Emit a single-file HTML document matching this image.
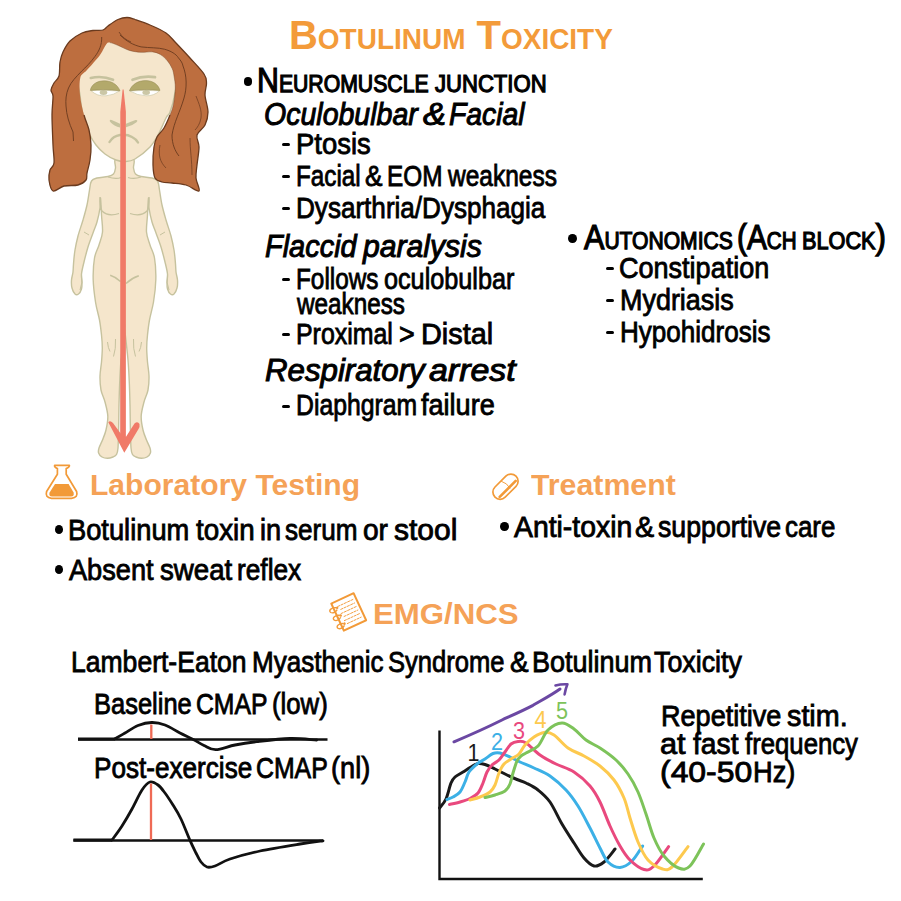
<!DOCTYPE html>
<html><head><meta charset="utf-8"><style>
html,body{margin:0;padding:0;background:#fff;}
body{width:901px;height:901px;position:relative;overflow:hidden;font-family:"Liberation Sans",sans-serif;}
.t{position:absolute;white-space:nowrap;transform-origin:0 0;}
.t.n{-webkit-text-stroke:0.85px #000;}
.t.n.k{-webkit-text-stroke:1.25px #000;}
.t.n.i{-webkit-text-stroke:1.0px #000;}
.b{position:absolute;background:#000;border-radius:50%;}
.d{position:absolute;background:#000;border-radius:1.5px;}
svg{position:absolute;left:0;top:0;}
</style></head><body>
<svg width="901" height="901" viewBox="0 0 901 901"><path d="M116,158 C113.1,159.7 115.9,165.3 115.5,168 C115.1,170.7 114.8,172.6 113.5,174 C112.2,175.4 110.8,175.8 108,176.5 C105.2,177.2 99.8,177.2 97,178 C94.2,178.8 92.8,179.0 91.5,181 C90.2,183.0 90.2,186.0 89.5,190 C88.8,194.0 88.1,200.0 87,205 C85.9,210.0 84.5,214.8 83,220 C81.5,225.2 79.3,231.0 78,236 C76.7,241.0 75.8,245.3 75,250 C74.2,254.7 73.8,260.3 73.5,264 C73.2,267.7 73.3,269.3 73,272 C72.7,274.7 71.7,277.3 71.5,280 C71.3,282.7 71.4,285.7 72,288 C72.6,290.3 73.9,293.0 75,294 C76.1,295.0 77.4,294.8 78.5,294 C79.6,293.2 80.9,291.0 81.5,289 C82.1,287.0 82.0,284.5 82,282 C82.0,279.5 81.2,277.3 81.5,274 C81.8,270.7 82.9,266.5 84,262 C85.1,257.5 86.5,251.8 88,247 C89.5,242.2 91.5,237.2 93,233 C94.5,228.8 95.8,226.2 97,222 C98.2,217.8 99.4,212.0 100,208 C100.6,204.0 100.2,196.8 100.5,198 C100.8,199.2 101.2,209.3 101.5,215 C101.8,220.7 102.9,227.0 102.5,232 C102.1,237.0 100.3,240.7 99,245 C97.7,249.3 95.5,252.2 94.5,258 C93.5,263.8 93.0,272.7 93.2,280 C93.4,287.3 94.5,295.3 95.5,302 C96.5,308.7 98.5,314.5 99.5,320 C100.5,325.5 101.0,330.3 101.5,335 C102.0,339.7 102.3,343.5 102.3,348 C102.3,352.5 101.9,357.3 101.5,362 C101.1,366.7 100.1,371.3 100,376 C99.9,380.7 100.2,385.7 101,390 C101.8,394.3 103.9,397.7 105,402 C106.1,406.3 107.6,411.3 107.8,416 C108.0,420.7 106.9,426.0 106,430 C105.1,434.0 103.7,437.0 102.5,440 C101.3,443.0 99.7,445.8 99,448 C98.3,450.2 98.1,451.5 98.6,453 C99.1,454.5 100.5,456.1 102,457 C103.5,457.9 105.8,458.3 107.6,458.3 C109.4,458.3 111.5,457.6 113,457 C114.5,456.4 115.7,456.0 116.5,454.5 C117.3,453.0 117.7,452.1 118,448 C118.3,443.9 118.4,437.2 118.6,430 C118.8,422.8 118.8,412.5 119,405 C119.2,397.5 119.3,392.5 119.6,385 C119.9,377.5 120.2,369.5 121,360 C121.8,350.5 123.9,333.3 124.5,328 C125.1,322.7 123.9,322.7 124.5,328 C125.1,333.3 127.2,350.5 128,360 C128.8,369.5 129.1,377.5 129.4,385 C129.7,392.5 129.8,397.5 130,405 C130.2,412.5 130.2,422.8 130.4,430 C130.6,437.2 130.7,443.9 131,448 C131.3,452.1 131.7,453.0 132.5,454.5 C133.3,456.0 134.5,456.4 136,457 C137.5,457.6 139.6,458.3 141.4,458.3 C143.2,458.3 145.5,457.9 147,457 C148.5,456.1 149.9,454.5 150.4,453 C150.9,451.5 150.7,450.2 150,448 C149.3,445.8 147.7,443.0 146.5,440 C145.3,437.0 143.9,434.0 143,430 C142.1,426.0 141.0,420.7 141.2,416 C141.4,411.3 142.9,406.3 144,402 C145.1,397.7 147.2,394.3 148,390 C148.8,385.7 149.1,380.7 149,376 C148.9,371.3 147.9,366.7 147.5,362 C147.1,357.3 146.7,352.5 146.7,348 C146.7,343.5 147.0,339.7 147.5,335 C148.0,330.3 148.5,325.5 149.5,320 C150.5,314.5 152.4,308.7 153.5,302 C154.6,295.3 155.6,287.3 155.8,280 C156.0,272.7 155.5,263.8 154.5,258 C153.5,252.2 151.3,249.3 150,245 C148.7,240.7 146.9,237.0 146.5,232 C146.1,227.0 147.2,220.7 147.5,215 C147.8,209.3 148.2,199.2 148.5,198 C148.8,196.8 148.4,204.0 149,208 C149.6,212.0 150.8,217.8 152,222 C153.2,226.2 154.5,228.8 156,233 C157.5,237.2 159.5,242.2 161,247 C162.5,251.8 163.9,257.5 165,262 C166.1,266.5 167.2,270.7 167.5,274 C167.8,277.3 167.0,279.5 167,282 C167.0,284.5 166.9,287.0 167.5,289 C168.1,291.0 169.4,293.2 170.5,294 C171.6,294.8 172.9,295.0 174,294 C175.1,293.0 176.4,290.3 177,288 C177.6,285.7 177.7,282.7 177.5,280 C177.3,277.3 176.3,274.7 176,272 C175.7,269.3 175.8,267.7 175.5,264 C175.2,260.3 174.8,254.7 174,250 C173.2,245.3 172.3,241.0 171,236 C169.7,231.0 167.5,225.2 166,220 C164.5,214.8 163.1,210.0 162,205 C160.9,200.0 160.2,194.0 159.5,190 C158.8,186.0 158.8,183.0 157.5,181 C156.2,179.0 154.8,178.8 152,178 C149.2,177.2 143.8,177.2 141,176.5 C138.2,175.8 136.8,175.4 135.5,174 C134.2,172.6 133.9,170.7 133.5,168 C133.1,165.3 135.9,159.7 133,158 C130.1,156.3 118.9,156.3 116,158 Z" fill="#F5E6CC" stroke="#C6C29E" stroke-width="1.4" stroke-linejoin="round"/><path d="M78,70 C81.3,60.8 88.0,45.0 100,40 C112.0,35.0 137.3,35.0 150,40 C162.7,45.0 171.9,60.8 176,70 C180.1,79.2 175.5,88.0 174.5,95 C173.5,102.0 171.4,108.2 170,112 C168.6,115.8 168.0,114.2 166,118 C164.0,121.8 160.7,130.2 158,135 C155.3,139.8 153.8,143.0 150,147 C146.2,151.0 139.2,156.6 135,159 C130.8,161.4 128.2,161.3 125,161.5 C121.8,161.7 119.3,161.2 116,160 C112.7,158.8 108.3,156.5 105,154 C101.7,151.5 98.5,148.2 96,145 C93.5,141.8 92.2,140.0 90,135 C87.8,130.0 84.7,121.7 83,115 C81.3,108.3 80.8,102.5 80,95 C79.2,87.5 74.7,79.2 78,70 Z" fill="#F5E6CC" stroke="#C6C29E" stroke-width="1.4"/><path d="M108,177 Q116,179.5 121,177.5 M128,177.5 Q134,179.5 141,177" fill="none" stroke="#C6C29E" stroke-width="1.2"/><path d="M100,197 Q99.5,206 102,211 Q108,217 119,213.5 M149,197 Q149.5,206 147,211 Q141,217 130,213.5" fill="none" stroke="#C6C29E" stroke-width="1.3"/><path d="M84,232 L89,235 M165,232 L160,235" fill="none" stroke="#C6C29E" stroke-width="1"/><path d="M81.5,274 Q83,283 80,290 M167.5,274 Q166,283 169,290" fill="none" stroke="#C6C29E" stroke-width="1"/><path d="M110.2,275.2 Q116,277 120.5,281.5 M138.8,275.8 Q132,278 126,283.5" fill="none" stroke="#C6C29E" stroke-width="1.6"/><path d="M107.5,342 Q108,348 110,351.5 M115.5,339 Q116,349 113.5,356.5 M141.5,342 Q141,348 139,351.5 M133.5,339 Q133,349 135.5,356.5" fill="none" stroke="#C6C29E" stroke-width="1"/><path d="M53,191 C50.5,190.0 49.5,183.5 49,180 C48.5,176.5 49.2,172.8 50,170 C50.8,167.2 53.5,167.2 54,163 C54.5,158.8 53.3,153.0 53,145 C52.7,137.0 52.0,123.2 52,115 C52.0,106.8 53.2,100.2 53,96 C52.8,91.8 50.8,92.2 51,90 C51.2,87.8 52.7,85.3 54,83 C55.3,80.7 58.0,79.5 59,76 C60.0,72.5 59.3,66.0 60,62 C60.7,58.0 61.3,55.5 63,52 C64.7,48.5 66.8,44.2 70,41 C73.2,37.8 78.2,34.8 82,33 C85.8,31.2 89.5,31.0 93,30.5 C96.5,30.0 100.5,30.8 103,30 C105.5,29.2 105.5,27.8 108,26 C110.5,24.2 114.8,20.9 118,19.5 C121.2,18.1 124.2,17.5 127,17.5 C129.8,17.5 131.2,18.2 135,19.5 C138.8,20.8 144.8,22.8 150,25 C155.2,27.2 161.7,30.0 166,33 C170.3,36.0 172.0,38.8 176,43 C180.0,47.2 185.3,52.8 190,58 C194.7,63.2 201.2,69.8 204,74 C206.8,78.2 206.3,79.5 206.5,83 C206.7,86.5 204.8,90.2 205,95 C205.2,99.8 208.0,107.0 208,112 C208.0,117.0 206.8,121.2 205,125 C203.2,128.8 198.0,131.3 197,135 C196.0,138.7 199.0,142.0 199,147 C199.0,152.0 197.5,159.8 197,165 C196.5,170.2 195.7,173.7 196,178 C196.3,182.3 200.7,189.8 199,191 C197.3,192.2 190.5,186.3 186,185 C181.5,183.7 176.0,183.5 172,183 C168.0,182.5 164.8,182.8 162,182 C159.2,181.2 156.5,180.8 155,178 C153.5,175.2 153.2,170.2 153,165 C152.8,159.8 153.3,151.7 154,147 C154.7,142.3 155.3,140.2 157,137 C158.7,133.8 161.8,131.7 164,128 C166.2,124.3 168.4,119.0 170,115 C171.6,111.0 172.6,108.5 173.5,104 C174.4,99.5 175.2,92.6 175.3,88 C175.4,83.4 174.6,79.6 174.1,76.4 C173.6,73.2 173.3,71.2 172.2,68.6 C171.1,66.0 169.4,63.2 167.5,60.9 C165.6,58.6 163.0,56.1 160.5,54.6 C158.0,53.1 155.9,52.3 152.7,51.9 C149.5,51.5 145.0,52.5 141.1,52.3 C137.2,52.0 133.3,51.6 129.4,50.4 C125.5,49.2 121.0,46.6 117.8,45.3 C114.6,44.0 112.0,42.8 110,42.6 C108.0,42.5 107.6,42.5 106.1,44.4 C104.6,46.3 102.4,51.3 100.8,53.8 C99.2,56.3 97.9,57.7 96.3,59.6 C94.7,61.5 93.1,63.4 91.4,65.3 C89.7,67.2 87.9,69.0 86.1,71.1 C84.2,73.2 81.3,73.8 80.3,77.8 C79.3,81.8 79.4,88.8 80,95 C80.6,101.2 82.5,109.2 84,115 C85.5,120.8 87.8,125.0 89,130 C90.2,135.0 90.8,140.0 91,145 C91.2,150.0 90.7,155.3 90,160 C89.3,164.7 87.7,169.7 87,173 C86.3,176.3 87.5,178.0 86,180 C84.5,182.0 81.7,184.0 78,185 C74.3,186.0 68.2,185.0 64,186 C59.8,187.0 55.5,192.0 53,191 Z" fill="#BD6E3F"/><path d="M84,115 C85.5,120.8 87.8,125.0 89,130 C90.2,135.0 90.8,140.0 91,145 C91.2,150.0 90.7,155.3 90,160 C89.3,164.7 87.7,169.7 87,173 C86.3,176.3 87.5,178.0 86,180 C84.5,182.0 81.7,184.0 78,185 C74.3,186.0 68.2,185.0 64,186 C59.8,187.0 55.5,192.0 53,191 C50.5,190.0 49.5,183.5 49,180 C48.5,176.5 49.2,172.8 50,170 C50.8,167.2 53.5,167.2 54,163 C54.5,158.8 53.3,153.0 53,145 C52.7,137.0 52.0,123.2 52,115 C52.0,106.8 53.2,100.2 53,96 C52.8,91.8 50.8,92.2 51,90 C51.2,87.8 52.7,85.3 54,83 C55.3,80.7 58.0,79.5 59,76 C60.0,72.5 59.3,66.0 60,62 C60.7,58.0 61.3,55.5 63,52 C64.7,48.5 66.8,44.2 70,41 C73.2,37.8 78.2,34.8 82,33 C85.8,31.2 89.5,31.0 93,30.5 C96.5,30.0 100.5,30.8 103,30 C105.5,29.2 105.5,27.8 108,26 C110.5,24.2 114.8,20.9 118,19.5 C121.2,18.1 124.2,17.5 127,17.5 C129.8,17.5 131.2,18.2 135,19.5 C138.8,20.8 144.8,22.8 150,25 C155.2,27.2 161.7,30.0 166,33 C170.3,36.0 172.0,38.8 176,43 C180.0,47.2 185.3,52.8 190,58 C194.7,63.2 201.2,69.8 204,74 C206.8,78.2 206.3,79.5 206.5,83 C206.7,86.5 204.8,90.2 205,95 C205.2,99.8 208.0,107.0 208,112 C208.0,117.0 206.8,121.2 205,125 C203.2,128.8 198.0,131.3 197,135 C196.0,138.7 199.0,142.0 199,147 C199.0,152.0 197.5,159.8 197,165 C196.5,170.2 195.7,173.7 196,178 C196.3,182.3 200.7,189.8 199,191 C197.3,192.2 190.5,186.3 186,185 C181.5,183.7 176.0,183.5 172,183 C168.0,182.5 164.8,182.8 162,182 C159.2,181.2 156.5,180.8 155,178 C153.5,175.2 153.2,170.2 153,165 C152.8,159.8 153.3,151.7 154,147 C154.7,142.3 155.3,140.2 157,137 C158.7,133.8 161.8,131.7 164,128 C166.2,124.3 168.4,119.0 170,115" fill="none" stroke="#6A3A1E" stroke-width="1.3" stroke-linejoin="round"/><path d="M170,115 C171.6,111.0 172.6,108.5 173.5,104 C174.4,99.5 175.2,92.6 175.3,88 C175.4,83.4 174.6,79.6 174.1,76.4 C173.6,73.2 173.3,71.2 172.2,68.6 C171.1,66.0 169.4,63.2 167.5,60.9 C165.6,58.6 163.0,56.1 160.5,54.6 C158.0,53.1 155.9,52.3 152.7,51.9 C149.5,51.5 145.0,52.5 141.1,52.3 C137.2,52.0 133.3,51.6 129.4,50.4 C125.5,49.2 121.0,46.6 117.8,45.3 C114.6,44.0 112.0,42.8 110,42.6" fill="none" stroke="#6A3A1E" stroke-width="0.6" stroke-opacity="0.7"/><path d="M101.7,37 C102,45 99,51 95,56.4 C91,62 85.5,67.5 81.7,71.1 C76,77 71,82 68.5,88 C66,94 65.5,100 66,106 C66.5,115 69,123 73,132 L73.5,141" fill="none" stroke="#6A3A1E" stroke-width="0.9"/><path d="M120,35 C126,41 133,45 141.1,46.9 C150,48 158,47.5 164.4,49.2 C171,51 176,54 178.4,57.8 C181,61 182.5,63 183,66 C187,76 187,88 184,98 C180,112 174,122 172,135 C172,144 175,151 179,156" fill="none" stroke="#6A3A1E" stroke-width="0.9"/><path d="M119,32 C122,37 126,40 131,42" fill="none" stroke="#6A3A1E" stroke-width="0.8"/><path d="M160,145 C158,155 160,162 166,168 M190,138 C190,150 192,160 192,175 M196,96 C199,104 202,110 201,118 C200,124 197,128 195,130" fill="none" stroke="#6A3A1E" stroke-width="0.7"/><path d="M90.8,78 Q102,75.3 113,79.8 M132.5,79.8 Q143,75.5 155,77.2" fill="none" stroke="#C6C29E" stroke-width="2.7" stroke-linecap="round"/><path d="M91,90.6 Q97,96.5 106,95.8 Q114,95 119.5,91 Q105,89.8 91,90.6 Z M130,91 Q137,95.5 146,95.8 Q154,96 159.5,90.8 Q145,89.8 130,91 Z" fill="#fff" stroke="#C6C29E" stroke-width="0.6"/><ellipse cx="103.5" cy="92.6" rx="3.8" ry="2.5" fill="#CBC7A6"/><ellipse cx="146.2" cy="92.6" rx="3.8" ry="2.5" fill="#CBC7A6"/><path d="M90.3,90.4 C91.5,84 97.5,80.8 104.5,80.8 C111.5,80.8 117.5,84.5 120,90.8 C110,89.6 100,89.4 90.3,90.4 Z M129.4,90.8 C131.8,84.5 138,80.6 145.5,80.6 C152.5,80.6 158.2,84 160,90.4 C150,89.4 139.5,89.6 129.4,90.8 Z" fill="#B3A96B" stroke="#8E8650" stroke-width="0.5"/><path d="M109.8,120.3 Q110.3,119.5 111.6,120.1 Q115.5,121.8 120,123.8 L120,127.4 Q114,126.2 110.5,122.2 Q109.5,121.2 109.8,120.3 Z M137.3,120.4 Q136.8,119.6 135.5,120.1 Q131,121.9 126,123.8 L126,127.2 Q132,126 136.5,122.2 Q137.6,121.2 137.3,120.4 Z" fill="#C6C29E"/><path d="M109.5,142 Q113,136 120,135 Q127,134 132,137 Q136,139 138,142.5" fill="none" stroke="#C6C29E" stroke-width="2.4" stroke-linecap="round"/><path d="M122.6,89.5 L123.6,89.5 L125.9,112 L125.9,438 L120.2,438 L120.3,112 Z" fill="#F07A68"/><path d="M108.3,422.3 Q110,420 113,423 L120.3,433 L123,436 L126,436.7 L134.5,423.5 Q137.7,421 139.5,424 Q140,427 138.5,429 L124.3,452.7 Z" fill="#F07A68"/></svg>
<svg width="901" height="901" viewBox="0 0 901 901" style="position:absolute;left:0;top:0"><path d="M78,739.5 L327.5,739.5 M73.4,840.5 L323,840.5" stroke="#111" stroke-width="2.3" fill="none"/><path d="M78,739 L115,739 M73.4,840 L112,840" stroke="#111" stroke-width="3" fill="none"/><path d="M115,738.8 C116.7,737.8 121.2,735.2 125,733 C128.8,730.8 133.6,727.2 138,725.5 C142.4,723.8 147.2,722.6 151.7,722.5 C156.2,722.4 160.3,723.2 165,725 C169.7,726.8 175.3,730.6 180,733 C184.7,735.4 189.3,737.4 193.3,739.5 C197.3,741.6 200.2,743.8 204,745.5 C207.8,747.2 210.6,749.8 215.8,749.7 C221.0,749.6 228.2,746.3 235,745 C241.8,743.7 247.5,742.8 256.7,741.7 C265.9,740.6 280.0,738.8 290,738.5 C300.0,738.2 312.2,739.8 316.7,740" stroke="#111" stroke-width="2.8" fill="none" stroke-linecap="round"/><path d="M112,840 C113.7,837.7 118.7,831.2 122,826 C125.3,820.8 128.7,815.0 132,809 C135.3,803.0 139.0,794.5 142,790 C145.0,785.5 147.3,782.8 150,782 C152.7,781.2 155.5,783.2 158,785 C160.5,786.8 162.5,789.7 165,793 C167.5,796.3 170.3,800.7 173,805 C175.7,809.3 178.2,813.1 181,819 C183.8,824.9 187.5,834.7 190,840.4 C192.5,846.1 194.2,849.4 196,853 C197.8,856.6 199.2,859.7 201,862 C202.8,864.3 204.7,866.3 207,867 C209.3,867.7 211.2,867.3 215,866 C218.8,864.7 222.5,861.5 230,859 C237.5,856.5 248.3,853.5 260,851 C271.7,848.5 289.5,845.7 300,844 C310.5,842.3 319.2,841.3 323,840.8" stroke="#111" stroke-width="2.8" fill="none" stroke-linecap="round"/><path d="M151.3,724.5 L151.3,739 M151,783.5 L151,840" stroke="#EF6A55" stroke-width="2.3" fill="none"/><path d="M439.5,730.5 L439.5,879 L702.8,879" stroke="#111" stroke-width="2.4" fill="none"/><path d="M439.5,808 C440.6,806.5 444.1,803.2 446,799 C447.9,794.8 449.5,786.7 451,783 C452.5,779.3 453.0,778.8 455,777 C457.0,775.2 460.3,773.7 463,772 C465.7,770.3 468.5,768.4 471,767 C473.5,765.6 475.7,763.9 478,763.5 C480.3,763.1 482.2,763.6 485,764.5 C487.8,765.4 491.3,767.2 495,769 C498.7,770.8 503.3,773.2 507,775 C510.7,776.8 513.8,778.2 517,779.5 C520.2,780.8 522.5,781.2 526,783 C529.5,784.8 534.0,786.8 538,790 C542.0,793.2 546.0,796.3 550,802 C554.0,807.7 558.0,817.2 562,824 C566.0,830.8 570.3,837.3 574,843 C577.7,848.7 580.7,854.2 584,858 C587.3,861.8 590.7,865.3 594,866 C597.3,866.7 600.5,864.8 604,862 C607.5,859.2 613.2,851.2 615,849" stroke="#1a1a1a" stroke-width="3" fill="none" stroke-linecap="round" stroke-linejoin="round"/><path d="M447,799.5 C448.0,799.1 450.8,798.2 453,797 C455.2,795.8 458.0,794.5 460,792 C462.0,789.5 463.5,785.3 465,782 C466.5,778.7 467.0,775.0 469,772 C471.0,769.0 474.3,766.2 477,764 C479.7,761.8 482.3,760.8 485,759 C487.7,757.2 490.5,754.5 493,753.5 C495.5,752.5 497.2,752.4 500,753 C502.8,753.6 506.7,755.5 510,757 C513.3,758.5 516.0,760.2 520,762 C524.0,763.8 529.0,765.7 534,768 C539.0,770.3 544.7,772.3 550,776 C555.3,779.7 561.3,785.0 566,790 C570.7,795.0 574.0,799.7 578,806 C582.0,812.3 586.3,821.0 590,828 C593.7,835.0 597.0,842.3 600,848 C603.0,853.7 604.7,858.8 608,862 C611.3,865.2 616.0,867.7 620,867.5 C624.0,867.3 628.2,864.6 632,861 C635.8,857.4 640.8,848.5 642.6,846" stroke="#3CB0E6" stroke-width="3" fill="none" stroke-linecap="round" stroke-linejoin="round"/><path d="M449.5,804.5 C451.2,804.1 456.6,803.0 460,802 C463.4,801.0 467.0,800.0 470,798.5 C473.0,797.0 475.8,795.6 478,793 C480.2,790.4 481.5,786.5 483,783 C484.5,779.5 485.5,775.0 487,772 C488.5,769.0 490.0,767.0 492,765 C494.0,763.0 496.8,762.2 499,760 C501.2,757.8 503.0,754.7 505,752 C507.0,749.3 508.8,745.8 511,744 C513.2,742.2 515.5,741.7 518,741.5 C520.5,741.3 522.3,740.8 526,743 C529.7,745.2 535.0,751.5 540,755 C545.0,758.5 550.3,761.2 556,764 C561.7,766.8 568.3,768.3 574,772 C579.7,775.7 585.7,781.0 590,786 C594.3,791.0 596.7,795.3 600,802 C603.3,808.7 606.7,818.7 610,826 C613.3,833.3 616.7,840.3 620,846 C623.3,851.7 626.0,856.1 630,860 C634.0,863.9 640.0,868.5 644,869.5 C648.0,870.5 649.9,869.8 654,866 C658.1,862.2 666.2,849.8 668.6,846.6" stroke="#E9497E" stroke-width="3" fill="none" stroke-linecap="round" stroke-linejoin="round"/><path d="M470,800 C471.7,799.5 476.7,798.3 480,797 C483.3,795.7 487.5,794.0 490,792 C492.5,790.0 493.5,788.2 495,785 C496.5,781.8 497.5,776.5 499,773 C500.5,769.5 502.0,766.3 504,764 C506.0,761.7 508.5,760.7 511,759 C513.5,757.3 516.7,756.3 519,754 C521.3,751.7 522.5,747.8 525,745 C527.5,742.2 530.8,739.1 534,737 C537.2,734.9 540.7,732.7 544,732.4 C547.3,732.1 550.0,732.4 554,735 C558.0,737.6 563.0,744.5 568,748 C573.0,751.5 578.7,753.0 584,756 C589.3,759.0 595.0,762.0 600,766 C605.0,770.0 610.0,774.7 614,780 C618.0,785.3 621.3,791.7 624,798 C626.7,804.3 627.7,810.7 630,818 C632.3,825.3 635.0,835.0 638,842 C641.0,849.0 643.9,855.5 648,860 C652.1,864.5 658.6,867.8 662.6,869 C666.6,870.2 667.8,870.7 672,867 C676.2,863.3 685.3,850.0 688,846.6" stroke="#FDC94E" stroke-width="3" fill="none" stroke-linecap="round" stroke-linejoin="round"/><path d="M485,797.5 C486.7,797.1 491.7,796.1 495,795 C498.3,793.9 502.5,792.8 505,791 C507.5,789.2 508.7,787.0 510,784 C511.3,781.0 511.8,776.8 513,773 C514.2,769.2 515.7,763.8 517,761 C518.3,758.2 519.5,757.3 521,756 C522.5,754.7 523.2,754.7 526,753 C528.8,751.3 534.3,749.8 538,746 C541.7,742.2 544.0,733.8 548,730 C552.0,726.2 557.7,723.2 562,723 C566.3,722.8 570.0,726.2 574,729 C578.0,731.8 581.7,736.8 586,740 C590.3,743.2 595.0,744.7 600,748 C605.0,751.3 611.3,755.7 616,760 C620.7,764.3 624.3,768.7 628,774 C631.7,779.3 635.0,785.3 638,792 C641.0,798.7 643.3,806.3 646,814 C648.7,821.7 651.0,831.0 654,838 C657.0,845.0 659.9,851.0 664,856 C668.1,861.0 674.3,866.3 678.6,868 C682.9,869.7 685.9,870.0 690,866 C694.1,862.0 701.2,847.7 703.5,844" stroke="#7DC35A" stroke-width="3" fill="none" stroke-linecap="round" stroke-linejoin="round"/><path d="M454,741.8 C475,733 490,726 502,720 C515,714 525,709.5 533,705.3 C542,700 550,696 560,689" stroke="#6B48A3" stroke-width="3" fill="none" stroke-linecap="round"/><path d="M555.5,685.5 Q561,684 567.4,684.3 Q565.5,689 564.6,694.4" fill="none" stroke="#6B48A3" stroke-width="2.6" stroke-linejoin="round" stroke-linecap="round"/><text x="473.5" y="761.2" text-anchor="middle" font-family="Liberation Sans" font-size="23.5" fill="#1a1a1a" transform="translate(473.5,761.2) scale(0.92,1) translate(-473.5,-761.2)">1</text><text x="497" y="750" text-anchor="middle" font-family="Liberation Sans" font-size="23.5" fill="#3CB0E6" transform="translate(497,750) scale(0.92,1) translate(-497,-750)">2</text><text x="519" y="738.8" text-anchor="middle" font-family="Liberation Sans" font-size="23.5" fill="#E9497E" transform="translate(519,738.8) scale(0.92,1) translate(-519,-738.8)">3</text><text x="540.5" y="728" text-anchor="middle" font-family="Liberation Sans" font-size="23.5" fill="#FDC94E" transform="translate(540.5,728) scale(0.92,1) translate(-540.5,-728)">4</text><text x="562" y="719.5" text-anchor="middle" font-family="Liberation Sans" font-size="23.5" fill="#7DC35A" transform="translate(562,719.5) scale(0.92,1) translate(-562,-719.5)">5</text></svg>
<svg width="901" height="901" viewBox="0 0 901 901" style="position:absolute;left:0;top:0"><path d="M54.6,465.4 L69.4,465.4 Q69.6,467.3 66.2,468.6 L66.2,474.2 L76.6,491.5 Q78.5,497.8 71.5,498.3 L51.5,498.3 Q44.8,497.8 46.6,491.5 L57.4,474.2 L57.4,468.6 Q54.2,467.3 54.6,465.4 Z" fill="none" stroke="#F29A38" stroke-width="1.7" stroke-linejoin="round"/><path d="M55,484 L68.6,484 L73.6,492.6 Q74.6,496.4 71,496.6 L52,496.6 Q48.4,496.4 49.6,492.6 Z" fill="#F29A38"/><g transform="translate(505.5,486.7) rotate(-45)"><rect x="-14.85" y="-7.2" width="29.7" height="14.4" rx="7.2" fill="none" stroke="#F29A38" stroke-width="1.7"/><path d="M0.8,-7 Q3.8,-1.5 2,4.5" fill="none" stroke="#F29A38" stroke-width="0.9"/><path d="M-11.3,3.1 L11.3,3.1" stroke="#F29A38" stroke-width="2.6" stroke-linecap="round"/></g><g transform="translate(348.7,611.9) rotate(-24.9)"><rect x="-12.3" y="-14.9" width="24.6" height="29.8" fill="#fff" stroke="#F29A38" stroke-width="2" stroke-linejoin="round"/><path d="M-8,-9.5 L9.5,-9.5" stroke="#F29A38" stroke-width="0.85" stroke-dasharray="3,0.6"/><path d="M-6.5,-5.6 L9.5,-5.6" stroke="#F29A38" stroke-width="0.85" stroke-dasharray="3,0.6"/><path d="M-8,-1.7 L9.5,-1.7" stroke="#F29A38" stroke-width="0.85" stroke-dasharray="3,0.6"/><path d="M-6.5,2.2 L9.5,2.2" stroke="#F29A38" stroke-width="0.85" stroke-dasharray="3,0.6"/><path d="M-8,6.1 L9.5,6.1" stroke="#F29A38" stroke-width="0.85" stroke-dasharray="3,0.6"/><path d="M-6.5,10.0 L9.5,10.0" stroke="#F29A38" stroke-width="0.85" stroke-dasharray="3,0.6"/><path d="M-9.5,-9 C-13,-11.5 -18.5,-10 -16.5,-7 C-15,-5 -11.5,-5.5 -9.5,-7" fill="none" stroke="#F29A38" stroke-width="1.4"/><circle cx="-8.8" cy="-8.6" r="1.3" fill="#F29A38"/><path d="M-9.5,-0.5 C-13,-3.0 -18.5,-1.5 -16.5,1.5 C-15,3.5 -11.5,3.0 -9.5,1.5" fill="none" stroke="#F29A38" stroke-width="1.4"/><circle cx="-8.8" cy="-0.09999999999999998" r="1.3" fill="#F29A38"/><path d="M-9.5,8.5 C-13,6.0 -18.5,7.5 -16.5,10.5 C-15,12.5 -11.5,12.0 -9.5,10.5" fill="none" stroke="#F29A38" stroke-width="1.4"/><circle cx="-8.8" cy="8.9" r="1.3" fill="#F29A38"/></g></svg>
<div class="t n k" style="left:256.90px;top:61.90px;font-size:35px;line-height:35px;font-style:normal;font-weight:normal;color:#000;transform:scaleX(0.8660)">N<span style="font-size:0.7em">EUROMUSCLE</span></div><div class="t n k" style="left:435.10px;top:61.90px;font-size:35px;line-height:35px;font-style:normal;font-weight:normal;color:#000;transform:scaleX(0.9008)"><span style="font-size:0.7em">JUNCTION</span></div><div class="t n i" style="left:264.16px;top:98.50px;font-size:31px;line-height:31px;font-style:italic;font-weight:normal;color:#000;transform:scaleX(0.9199)">Oculobulbar</div><div class="t n i" style="left:422.59px;top:98.50px;font-size:31px;line-height:31px;font-style:italic;font-weight:normal;color:#000;transform:scaleX(1.1111)">&amp;</div><div class="t n i" style="left:449.09px;top:98.50px;font-size:31px;line-height:31px;font-style:italic;font-weight:normal;color:#000;transform:scaleX(0.9146)">Facial</div><div class="t n" style="left:295.54px;top:128.50px;font-size:29.5px;line-height:29.5px;font-style:normal;font-weight:normal;color:#000;transform:scaleX(0.9299)">Ptosis</div><div class="t n" style="left:295.76px;top:160.80px;font-size:29.5px;line-height:29.5px;font-style:normal;font-weight:normal;color:#000;transform:scaleX(0.8213)">Facial</div><div class="t n" style="left:365.11px;top:160.80px;font-size:29.5px;line-height:29.5px;font-style:normal;font-weight:normal;color:#000;transform:scaleX(0.8889)">&amp;</div><div class="t n" style="left:387.35px;top:160.80px;font-size:29.5px;line-height:29.5px;font-style:normal;font-weight:normal;color:#000;transform:scaleX(0.8254)">EOM</div><div class="t n" style="left:448.00px;top:160.80px;font-size:29.5px;line-height:29.5px;font-style:normal;font-weight:normal;color:#000;transform:scaleX(0.8308)">weakness</div><div class="t n" style="left:295.63px;top:192.50px;font-size:29.5px;line-height:29.5px;font-style:normal;font-weight:normal;color:#000;transform:scaleX(0.8843)">Dysarthria/Dysphagia</div><div class="t n i" style="left:265.07px;top:230.50px;font-size:31px;line-height:31px;font-style:italic;font-weight:normal;color:#000;transform:scaleX(0.9337)">Flaccid</div><div class="t n i" style="left:363.47px;top:230.50px;font-size:31px;line-height:31px;font-style:italic;font-weight:normal;color:#000;transform:scaleX(0.9715)">paralysis</div><div class="t n" style="left:295.85px;top:263.50px;font-size:29.5px;line-height:29.5px;font-style:normal;font-weight:normal;color:#000;transform:scaleX(0.8247)">Follows</div><div class="t n" style="left:384.15px;top:263.50px;font-size:29.5px;line-height:29.5px;font-style:normal;font-weight:normal;color:#000;transform:scaleX(0.8543)">oculobulbar</div><div class="t n" style="left:297.00px;top:288.50px;font-size:29.5px;line-height:29.5px;font-style:normal;font-weight:normal;color:#000;transform:scaleX(0.8231)">weakness</div><div class="t n" style="left:295.81px;top:318.90px;font-size:29.5px;line-height:29.5px;font-style:normal;font-weight:normal;color:#000;transform:scaleX(0.8441)">Proximal</div><div class="t n" style="left:399.09px;top:318.90px;font-size:29.5px;line-height:29.5px;font-style:normal;font-weight:normal;color:#000;transform:scaleX(0.9133)">&gt;</div><div class="t n" style="left:420.54px;top:318.90px;font-size:29.5px;line-height:29.5px;font-style:normal;font-weight:normal;color:#000;transform:scaleX(0.9786)">Distal</div><div class="t n i" style="left:264.99px;top:355.10px;font-size:31px;line-height:31px;font-style:italic;font-weight:normal;color:#000;transform:scaleX(1.0075)">Respiratory</div><div class="t n i" style="left:428.91px;top:355.10px;font-size:31px;line-height:31px;font-style:italic;font-weight:normal;color:#000;transform:scaleX(1.0937)">arrest</div><div class="t n" style="left:295.82px;top:390.10px;font-size:29.5px;line-height:29.5px;font-style:normal;font-weight:normal;color:#000;transform:scaleX(0.8393)">Diaphgram</div><div class="t n" style="left:421.20px;top:390.10px;font-size:29.5px;line-height:29.5px;font-style:normal;font-weight:normal;color:#000;transform:scaleX(0.9177)">failure</div><div class="t n k" style="left:583.70px;top:219.10px;font-size:35px;line-height:35px;font-style:normal;font-weight:normal;color:#000;transform:scaleX(0.8728)">A<span style="font-size:0.69em">UTONOMICS</span></div><div class="t n k" style="left:736.99px;top:219.10px;font-size:35px;line-height:35px;font-style:normal;font-weight:normal;color:#000;transform:scaleX(0.8530)">(A<span style="font-size:0.69em">CH</span></div><div class="t n k" style="left:802.20px;top:219.10px;font-size:35px;line-height:35px;font-style:normal;font-weight:normal;color:#000;transform:scaleX(0.8989)"><span style="font-size:0.69em">BLOCK</span>)</div><div class="t n" style="left:618.57px;top:252.90px;font-size:29.5px;line-height:29.5px;font-style:normal;font-weight:normal;color:#000;transform:scaleX(0.9163)">Constipation</div><div class="t n" style="left:619.77px;top:284.90px;font-size:29.5px;line-height:29.5px;font-style:normal;font-weight:normal;color:#000;transform:scaleX(0.9131)">Mydriasis</div><div class="t n" style="left:619.83px;top:316.90px;font-size:29.5px;line-height:29.5px;font-style:normal;font-weight:normal;color:#000;transform:scaleX(0.8833)">Hypohidrosis</div><div class="t n" style="left:68.15px;top:514.90px;font-size:29.5px;line-height:29.5px;font-style:normal;font-weight:normal;color:#000;transform:scaleX(0.9244)">Botulinum</div><div class="t n" style="left:196.20px;top:514.90px;font-size:29.5px;line-height:29.5px;font-style:normal;font-weight:normal;color:#000;transform:scaleX(0.9410)">toxin</div><div class="t n" style="left:260.46px;top:514.90px;font-size:29.5px;line-height:29.5px;font-style:normal;font-weight:normal;color:#000;transform:scaleX(0.9211)">in</div><div class="t n" style="left:285.31px;top:514.90px;font-size:29.5px;line-height:29.5px;font-style:normal;font-weight:normal;color:#000;transform:scaleX(0.8861)">serum</div><div class="t n" style="left:362.75px;top:514.90px;font-size:29.5px;line-height:29.5px;font-style:normal;font-weight:normal;color:#000;transform:scaleX(0.9520)">or</div><div class="t n" style="left:393.98px;top:514.90px;font-size:29.5px;line-height:29.5px;font-style:normal;font-weight:normal;color:#000;transform:scaleX(1.0169)">stool</div><div class="t n" style="left:69.00px;top:554.90px;font-size:29.5px;line-height:29.5px;font-style:normal;font-weight:normal;color:#000;transform:scaleX(0.9207)">Absent</div><div class="t n" style="left:160.26px;top:554.90px;font-size:29.5px;line-height:29.5px;font-style:normal;font-weight:normal;color:#000;transform:scaleX(0.9382)">sweat</div><div class="t n" style="left:236.92px;top:554.90px;font-size:29.5px;line-height:29.5px;font-style:normal;font-weight:normal;color:#000;transform:scaleX(0.8900)">reflex</div><div class="t n" style="left:513.70px;top:511.50px;font-size:29.5px;line-height:29.5px;font-style:normal;font-weight:normal;color:#000;transform:scaleX(0.9612)">Anti-toxin</div><div class="t n" style="left:635.23px;top:511.50px;font-size:29.5px;line-height:29.5px;font-style:normal;font-weight:normal;color:#000;transform:scaleX(0.9722)">&amp;</div><div class="t n" style="left:657.79px;top:511.50px;font-size:29.5px;line-height:29.5px;font-style:normal;font-weight:normal;color:#000;transform:scaleX(0.9052)">supportive</div><div class="t n" style="left:785.32px;top:511.50px;font-size:29.5px;line-height:29.5px;font-style:normal;font-weight:normal;color:#000;transform:scaleX(0.8782)">care</div><div class="t n" style="left:71.20px;top:647.10px;font-size:29.5px;line-height:29.5px;font-style:normal;font-weight:normal;color:#000;transform:scaleX(0.8995)">Lambert-Eaton</div><div class="t n" style="left:251.84px;top:647.10px;font-size:29.5px;line-height:29.5px;font-style:normal;font-weight:normal;color:#000;transform:scaleX(0.8822)">Myasthenic</div><div class="t n" style="left:388.27px;top:647.10px;font-size:29.5px;line-height:29.5px;font-style:normal;font-weight:normal;color:#000;transform:scaleX(0.8664)">Syndrome</div><div class="t n" style="left:509.56px;top:647.10px;font-size:29.5px;line-height:29.5px;font-style:normal;font-weight:normal;color:#000;transform:scaleX(0.9444)">&amp;</div><div class="t n" style="left:531.87px;top:647.10px;font-size:29.5px;line-height:29.5px;font-style:normal;font-weight:normal;color:#000;transform:scaleX(0.9150)">Botulinum</div><div class="t n" style="left:653.89px;top:647.10px;font-size:29.5px;line-height:29.5px;font-style:normal;font-weight:normal;color:#000;transform:scaleX(0.9083)">Toxicity</div><div class="t n" style="left:94.47px;top:689.10px;font-size:29.5px;line-height:29.5px;font-style:normal;font-weight:normal;color:#000;transform:scaleX(0.8636)">Baseline</div><div class="t n" style="left:195.82px;top:689.10px;font-size:29.5px;line-height:29.5px;font-style:normal;font-weight:normal;color:#000;transform:scaleX(0.8378)">CMAP</div><div class="t n" style="left:271.96px;top:689.10px;font-size:29.5px;line-height:29.5px;font-style:normal;font-weight:normal;color:#000;transform:scaleX(0.8717)">(low)</div><div class="t n" style="left:94.43px;top:752.90px;font-size:29.5px;line-height:29.5px;font-style:normal;font-weight:normal;color:#000;transform:scaleX(0.8857)">Post-exercise</div><div class="t n" style="left:256.02px;top:752.90px;font-size:29.5px;line-height:29.5px;font-style:normal;font-weight:normal;color:#000;transform:scaleX(0.8415)">CMAP</div><div class="t n" style="left:330.86px;top:752.90px;font-size:29.5px;line-height:29.5px;font-style:normal;font-weight:normal;color:#000;transform:scaleX(0.9205)">(nl)</div><div class="t n" style="left:660.66px;top:700.50px;font-size:29.5px;line-height:29.5px;font-style:normal;font-weight:normal;color:#000;transform:scaleX(0.9180)">Repetitive</div><div class="t n" style="left:786.53px;top:700.50px;font-size:29.5px;line-height:29.5px;font-style:normal;font-weight:normal;color:#000;transform:scaleX(0.9746)">stim.</div><div class="t n" style="left:660.16px;top:729.00px;font-size:29.5px;line-height:29.5px;font-style:normal;font-weight:normal;color:#000;transform:scaleX(1.0417)">at</div><div class="t n" style="left:692.50px;top:729.00px;font-size:29.5px;line-height:29.5px;font-style:normal;font-weight:normal;color:#000;transform:scaleX(0.9574)">fast</div><div class="t n" style="left:745.00px;top:729.00px;font-size:29.5px;line-height:29.5px;font-style:normal;font-weight:normal;color:#000;transform:scaleX(0.8721)">frequency</div><div class="t n" style="left:660.34px;top:757.00px;font-size:29.5px;line-height:29.5px;font-style:normal;font-weight:normal;color:#000;transform:scaleX(1.0817)">(40-50</div><div class="t n" style="left:753.16px;top:757.00px;font-size:29.5px;line-height:29.5px;font-style:normal;font-weight:normal;color:#000;transform:scaleX(0.9214)">Hz)</div><div class="t" style="left:289.10px;top:14.50px;font-size:41.4px;line-height:41.4px;font-style:normal;font-weight:bold;color:#F39B3A;transform:scaleX(0.9654)">B<span style="font-size:0.7em">OTULINUM</span> T<span style="font-size:0.7em">OXICITY</span></div><div class="t" style="left:90.40px;top:470.00px;font-size:30px;line-height:30px;font-style:normal;font-weight:bold;color:#F5A257;transform:scaleX(1.0023)">Laboratory Testing</div><div class="t" style="left:530.60px;top:470.00px;font-size:30px;line-height:30px;font-style:normal;font-weight:bold;color:#F5A257;transform:scaleX(1.0098)">Treatment</div><div class="t" style="left:372.85px;top:599.60px;font-size:29px;line-height:29px;font-style:normal;font-weight:bold;color:#F5A257;transform:scaleX(1.0758)">EMG/NCS</div>
<div class="b" style="left:244px;top:77px;width:8.4px;height:8.6px"></div><div class="b" style="left:568.4px;top:234px;width:8.6px;height:9.0px"></div><div class="b" style="left:54.6px;top:525px;width:8.4px;height:9.0px"></div><div class="b" style="left:54.6px;top:565px;width:8.4px;height:9.0px"></div><div class="b" style="left:500.4px;top:522px;width:8.6px;height:9.0px"></div><div class="d" style="left:282px;top:143px;width:8px;height:3.0px"></div><div class="d" style="left:282px;top:175px;width:8px;height:3.0px"></div><div class="d" style="left:282px;top:207px;width:8px;height:3.0px"></div><div class="d" style="left:282px;top:278px;width:8px;height:3.0px"></div><div class="d" style="left:282px;top:333px;width:8px;height:3.0px"></div><div class="d" style="left:282px;top:405px;width:8px;height:3.0px"></div><div class="d" style="left:606px;top:267px;width:8px;height:3.0px"></div><div class="d" style="left:606px;top:299px;width:8px;height:3.0px"></div><div class="d" style="left:606px;top:331px;width:8px;height:3.0px"></div>
</body></html>
